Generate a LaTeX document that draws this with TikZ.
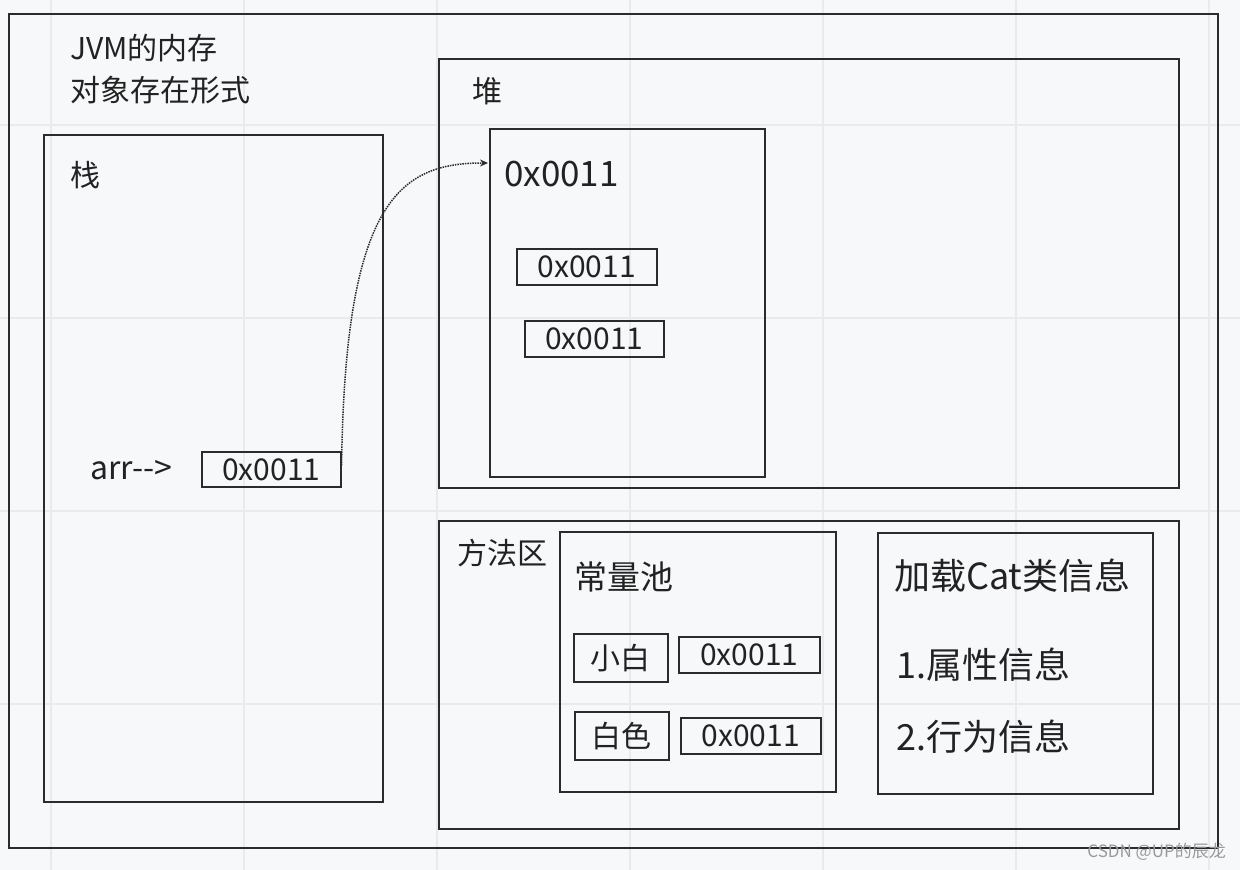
\documentclass[tikz,border=0pt]{standalone}
\usepackage{fontspec}
\setmainfont{Noto Sans CJK SC}
\usetikzlibrary{arrows.meta}
\definecolor{bgc}{HTML}{F7F8FA}
\definecolor{gridc}{HTML}{E9EAEC}
\definecolor{linec}{HTML}{2B2B2B}
\definecolor{textc}{HTML}{222222}
\definecolor{wmc}{HTML}{9A9A9A}
\newcommand{\fs}[1]{\fontsize{#1}{#1}\selectfont}
\tikzset{
  box/.style={draw=linec, line width=1.6pt, inner sep=0pt, anchor=north west, text=textc},
  lbl/.style={anchor=west, inner sep=0pt, text=textc},
  valbox/.style={box, font=\fs{30}},
  keybox/.style={box, font=\fs{30}},
}
\begin{document}
\begin{tikzpicture}[x=1pt,y=-1pt]
\fill[bgc] (0,0) rectangle (1240,870);
\useasboundingbox (0,0) rectangle (1240,870);
\foreach \x in {51,244,437,630,823,1016,1209} \draw[gridc,line width=1.2pt] (\x,0) -- (\x,870);
\foreach \y in {125,318,511,704} \draw[gridc,line width=1.2pt] (0,\y) -- (1240,\y);

% containers
\node[box, minimum width=1209pt, minimum height=834pt] (outer) at (8,13) {};
\node[box, minimum width=339pt, minimum height=667pt] (stack) at (43,134) {};
\node[box, minimum width=740pt, minimum height=429pt] (heap) at (438,58) {};
\node[box, minimum width=275pt, minimum height=348pt] (heapin) at (489,128) {};
\node[box, minimum width=740pt, minimum height=308pt] (method) at (438,520) {};
\node[box, minimum width=276pt, minimum height=260pt] (pool) at (559,531) {};
\node[box, minimum width=275pt, minimum height=261pt] (cat) at (877,532) {};

% small boxes
\node[valbox, minimum width=140pt, minimum height=36pt] (h1) at (516,248) {0x0011};
\node[valbox, minimum width=139pt, minimum height=36pt] (h2) at (524,320) {0x0011};
\node[valbox, minimum width=139pt, minimum height=35pt] (s1) at (201,451) {0x0011};
\node[keybox, minimum width=94pt, minimum height=48pt] (xb) at (573,633) {小白};
\node[valbox, minimum width=141pt, minimum height=36pt] (xbv) at (678,636) {0x0011};
\node[keybox, minimum width=94pt, minimum height=48pt] (bs) at (574,711) {白色};
\node[valbox, minimum width=140pt, minimum height=36pt] (bsv) at (680,717) {0x0011};

% labels
\node[lbl, font=\fs{30}] (t1) at (70,48) {JVM的内存};
\node[lbl, font=\fs{30}] (t2) at (70,90) {对象存在形式};
\node[lbl, font=\fs{30}] (tstack) at (70,175) {栈};
\node[lbl, font=\fs{30}] (theap) at (472,91) {堆};
\node[lbl, font=\fs{35}] (taddr) at (504,174) {0x0011};
\node[lbl, font=\fs{32}] (tarr) at (90,470) {arr-{}-{}>};
\node[lbl, font=\fs{30}] (tmethod) at (457,553) {方法区};
\node[lbl, font=\fs{33}] (tpool) at (574,577) {常量池};
\node[lbl, font=\fs{36}] (tcat) at (894,576) {加载Cat类信息};
\node[lbl, font=\fs{36}] (tc1) at (896,665) {1.属性信息};
\node[lbl, font=\fs{36}] (tc2) at (896,737) {2.行为信息};
\node[anchor=east, inner sep=0pt, text=wmc, font=\fs{17}] (wm) at (1226,852) {CSDN @UP的辰龙};

% pointer
\coordinate (pend) at ([xshift=-1pt]heapin.west |- taddr.west);
\draw[linec, line width=1.5pt, densely dotted, -{Stealth[length=8pt,width=7pt]}]
  ([yshift=4pt]s1.east) .. controls (345,200) and (400,163) .. ([yshift=11pt]pend);
\end{tikzpicture}
\end{document}
